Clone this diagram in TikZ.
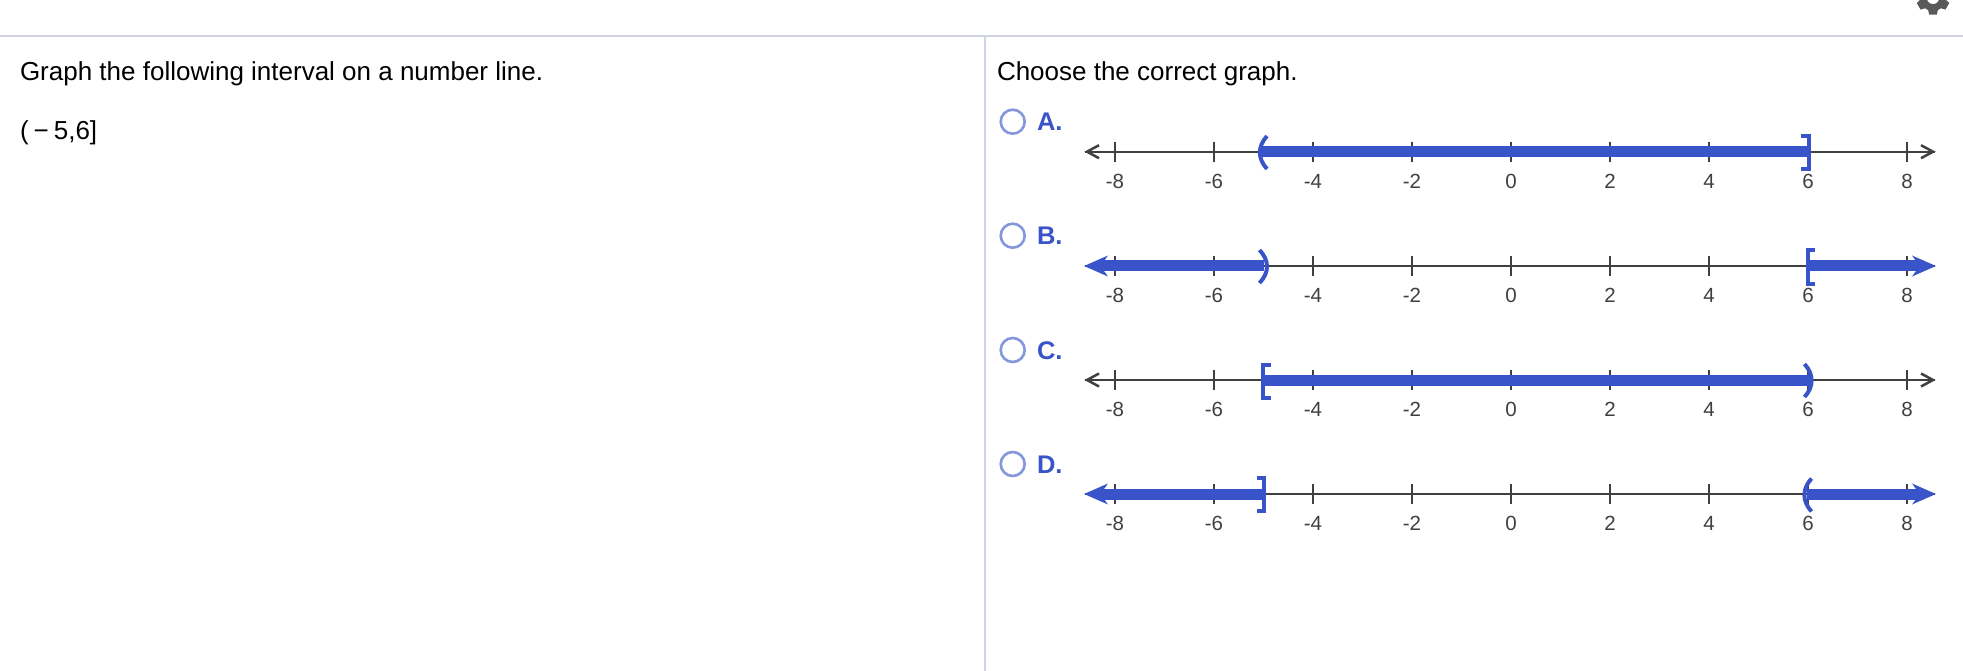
\documentclass[tikz,border=0pt]{standalone}
\usepackage{fontspec}
\setmainfont{Liberation Sans}
\definecolor{ink}{HTML}{404040}
\definecolor{choice}{HTML}{3953C8}
\definecolor{ring}{HTML}{8497DC}
\definecolor{rule}{HTML}{CFD3E2}
\definecolor{gearc}{HTML}{595959}
\tikzset{
  x=1pt,y=-1pt,
  prompt/.style={anchor=base west,inner sep=0pt,outer sep=0pt,text=black,font=\fontsize{26}{30}\selectfont},
  optlabel/.style={anchor=base west,inner sep=0pt,outer sep=0pt,text=choice,font=\fontsize{25.5}{30}\selectfont\bfseries},
  ticklabel/.style={anchor=base,inner sep=0pt,outer sep=0pt,text=ink,font=\fontsize{20.5}{24}\selectfont},
  axisline/.style={draw=ink,line width=1.7pt},
  tickmark/.style={draw=ink,line width=1.7pt},
  chevron/.style={draw=ink,line width=2.5pt,miter limit=10},
  radiobtn/.style={circle,draw=ring,fill=white,line width=2.6pt,minimum size=24pt,inner sep=0pt},
  rangebar/.style={draw=choice,line width=11pt},
  endmark/.style={draw=choice,line width=4pt},
  rulerline/.style={draw=rule,line width=2pt},
}
% \numline{name}{axis y}: axis, ticks, labels
\newcommand{\numline}[2]{%
  \coordinate (#1L) at (1085,#2);
  \coordinate (#1R) at (1935,#2);
  \draw[axisline] (#1L) -- (#1R);
  \foreach \v in {-8,-6,-4,-2,0,2,4,6,8}{%
    \coordinate (#1t\v) at ({1511+49.5*\v},#2);
    \draw[tickmark] ([yshift=10pt]#1t\v) -- ([yshift=-10pt]#1t\v);
    \node[ticklabel] (#1n\v) at ({1511+49.5*\v},#2+36.5) {\v};
  }%
}
% dark arrowheads at both ends of a line
\newcommand{\darkarrows}[1]{%
  \draw[chevron] ([shift={(14,-6.5)}]#1L) -- ([shift={(2,0)}]#1L) -- ([shift={(14,6.5)}]#1L);
  \draw[chevron] ([shift={(-14,-6.5)}]#1R) -- ([shift={(-2,0)}]#1R) -- ([shift={(-14,6.5)}]#1R);
}
% filled blue arrowheads
\newcommand{\bluearrowL}[1]{\fill[choice] (1084,#1) -- (1108,#1-10.5) -- (1104,#1-5) -- (1104,#1+5) -- (1108,#1+10.5) -- cycle;}
\newcommand{\bluearrowR}[1]{\fill[choice] (1936,#1) -- (1912,#1-10.5) -- (1916,#1-5) -- (1916,#1+5) -- (1912,#1+10.5) -- cycle;}
% \parenmark{end x}{control x}{axis y}
\newcommand{\parenmark}[3]{\draw[endmark] (#1,#3-16.5) .. controls (#2,#3-6) and (#2,#3+6) .. (#1,#3+16.5);}
% \brackmark{bar x}{hook x}{axis y}
\newcommand{\brackmark}[3]{\draw[endmark,miter limit=10] (#2,#3-16.5) -- (#1,#3-16.5) -- (#1,#3+16.5) -- (#2,#3+16.5);}
\begin{document}
\begin{tikzpicture}
\useasboundingbox (0,0) rectangle (1963,671);
\fill[white] (0,0) rectangle (1963,671);

% frame rules
\coordinate (ruleL) at (0,36);
\coordinate (ruleR) at (1963,36);
\coordinate (divT) at (985,36);
\coordinate (divB) at (985,671);
\draw[rulerline] (ruleL) -- (ruleR);
\draw[rulerline] (divT) -- (divB);

% gear, cut by the top edge
\begin{scope}
\clip (1900,0) rectangle (1963,20);
\fill[gearc] (1933,-2) +(17:17)
  \foreach \a in {30,90,...,330}{
    -- +(\a-13:17) -- +(\a+13:17) -- +(\a+22:13) -- +(\a+38:13)
  } -- cycle;
\fill[white] (1933,-2) circle (6);
\end{scope}

% prompts
\node[prompt] (q1) at (20,81) {Graph the following interval on a number line.};
\node[prompt] (q2) at (20,140) {(\kern5pt−\kern5pt5,6]};
\node[prompt] (q3) at (997,81) {Choose the correct graph.};

% options
\node[radiobtn] (ra) at (1012.7,121.7) {};
\node[radiobtn] (rb) at (1012.7,235.7) {};
\node[radiobtn] (rc) at (1012.7,350) {};
\node[radiobtn] (rd) at (1012.7,464) {};
\node[optlabel] (la) at (1037,130.7) {A.};
\node[optlabel] (lb) at (1037,245) {B.};
\node[optlabel] (lc) at (1037,359) {C.};
\node[optlabel] (ld) at (1037,473) {D.};

% A
\numline{a}{151.7}
\darkarrows{a}
\draw[rangebar] (1262,151.7) -- (1807,151.7);
\parenmark{1267}{1257.5}{152.5}
\brackmark{1808.5}{1801}{153}

% B
\numline{b}{266}
\draw[rangebar] (1100,266) -- (1264,266);
\bluearrowL{266}
\parenmark{1259.5}{1269.5}{266.5}
\draw[rangebar] (1808,266) -- (1920,266);
\bluearrowR{266}
\brackmark{1807.8}{1815}{267}

% C
\numline{c}{380}
\darkarrows{c}
\draw[rangebar] (1264,380) -- (1810,380);
\brackmark{1263.2}{1270.5}{381}
\parenmark{1804.5}{1814}{380.5}

% D
\numline{d}{494}
\draw[rangebar] (1100,494) -- (1264,494);
\bluearrowL{494}
\brackmark{1264}{1257}{494.7}
\draw[rangebar] (1807,494) -- (1920,494);
\bluearrowR{494}
\parenmark{1811.5}{1802}{495}
\end{tikzpicture}
\end{document}
